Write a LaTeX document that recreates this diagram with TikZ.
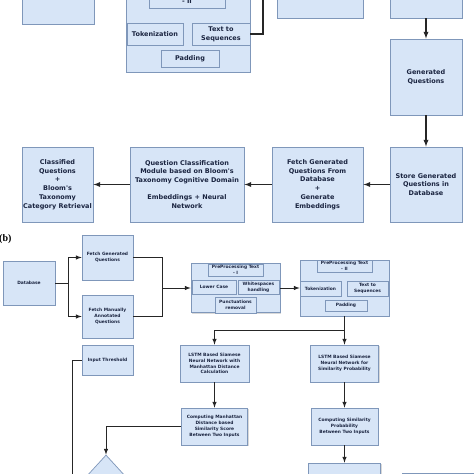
\documentclass[tikz,border=0pt]{standalone}
\usepackage{fontspec}
\newfontfamily\boxfont{DejaVu Sans}
\newfontfamily\labfont{Liberation Serif}
\usetikzlibrary{arrows,shapes.geometric,shadows}
\definecolor{boxfill}{HTML}{D7E5F7}
\definecolor{boxline}{HTML}{7F97BA}
\definecolor{boxtext}{HTML}{1A2440}
\definecolor{wire}{HTML}{262626}

\begin{document}
\begin{tikzpicture}[x=1pt,y=-1pt,>=latex,
blk/.style={draw=boxline,fill=boxfill,text=boxtext,align=center,drop shadow={shadow xshift=1pt,shadow yshift=-1pt,opacity=0.3}},
big/.style={blk,line width=0.9pt,inner sep=1pt,font=\boxfont\bfseries\fontsize{6.5}{8.7}\selectfont},
small/.style={blk,line width=0.7pt,inner sep=0.5pt,font=\boxfont\bfseries\fontsize{4.4}{5.9}\selectfont},
wa/.style={draw=wire,line width=1.3pt},
wb/.style={draw=wire,line width=1pt}]
\useasboundingbox (0,0) rectangle (474,474);
\clip (0,0) rectangle (474,474);

\node[big,minimum width=72pt,minimum height=64pt] (topl) at (58,-8) {};
\node[big,minimum width=124pt,minimum height=92pt] (ppa) at (188,26) {};
\node[big,minimum width=76pt,minimum height=22pt] (ppat) at (187,-3) {PreProcessing Text\\- II};
\node[big,minimum width=56pt,minimum height=22pt] (toka) at (155,34) {Tokenization};
\node[big,minimum width=58pt,minimum height=22pt] (tsa) at (221,34) {Text to\\Sequences};
\node[big,minimum width=58pt,minimum height=17pt] (pada) at (190,58.5) {Padding};
\node[big,minimum width=86pt,minimum height=58pt] (midb) at (320,-11) {};
\node[big,minimum width=72pt,minimum height=58pt] (topr) at (426,-11) {};
\node[big,minimum width=72pt,minimum height=76pt] (genq) at (426,77) {Generated\\Questions};
\node[big,minimum width=72pt,minimum height=75pt] (store) at (426,184.5) {Store Generated\\Questions in\\Database};
\node[big,minimum width=91pt,minimum height=75pt] (fetch) at (317.5,184.5) {Fetch Generated\\Questions From\\Database\\+\\Generate\\Embeddings};
\node[big,minimum width=114pt,minimum height=75pt] (qcm) at (187,184.5) {Question Classification\\Module based on Bloom's\\Taxonomy Cognitive Domain\\[8.7pt]Embeddings + Neural\\Network};
\node[big,minimum width=71pt,minimum height=75pt] (clsq) at (57.5,184.5) {Classified\\Questions\\+\\Bloom's\\Taxonomy\\Category Retrieval};

\coordinate (ppup) at (263,-30);
\draw[wa] (ppa.east |- tsa.center) -| (ppup);
\draw[wa,->] (topr) -- (genq);
\draw[wa,->] (genq) -- (store);
\draw[wa,->] (store) -- (fetch);
\draw[wa,->] (fetch) -- (qcm);
\draw[wa,->] (qcm) -- (clsq);

\node[font=\labfont\bfseries\fontsize{10}{11}\selectfont,anchor=west,inner sep=0pt] (lblb) at (-1,239) {(b)};

\node[small,minimum width=52pt,minimum height=44pt] (db) at (29,283) {Database};
\node[small,minimum width=51pt,minimum height=45pt] (fgq) at (107.5,257.5) {Fetch Generated\\Questions};
\node[small,minimum width=51pt,minimum height=43pt] (fmq) at (107.5,316.5) {Fetch Manually\\Annotated\\Questions};

\node[small,minimum width=89pt,minimum height=49pt] (ppb1) at (235.5,288) {};
\node[small,minimum width=55pt,minimum height=12pt] (ttl1) at (235.5,270) {PreProcessing Text\\- I};
\node[small,minimum width=44pt,minimum height=14pt] (lowc) at (214,287) {Lower Case};
\node[small,minimum width=41pt,minimum height=14pt] (wsh) at (258.5,287) {Whitespaces\\handling};
\node[small,minimum width=41pt,minimum height=16pt] (punc) at (235.5,305) {Punctuations\\removal};

\node[small,minimum width=89pt,minimum height=56pt] (ppb2) at (344.5,288) {};
\node[small,minimum width=55pt,minimum height=12pt] (ttl2) at (344.5,266) {PreProcessing Text\\- II};
\node[small,minimum width=41pt,minimum height=15pt] (tokb) at (320.5,288.5) {Tokenization};
\node[small,minimum width=41pt,minimum height=15pt] (tsb) at (367.5,288.5) {Text to\\Sequences};
\node[small,minimum width=42pt,minimum height=11pt] (padb) at (346,305.5) {Padding};

\node[small,minimum width=69pt,minimum height=37pt] (lstmm) at (214.5,363.5) {LSTM Based Siamese\\Neural Network with\\Manhattan Distance\\Calculation};
\node[small,minimum width=66pt,minimum height=37pt] (cmp) at (214.5,426.5) {Computing Manhattan\\Distance based\\Similarity Score\\Between Two Inputs};
\node[small,minimum width=68pt,minimum height=37pt] (lstmp) at (344.5,363.5) {LSTM Based Siamese\\Neural Network for\\Similarity Probability};
\node[small,minimum width=67pt,minimum height=37pt] (csp) at (344.5,426.5) {Computing Similarity\\Probability\\Between Two Inputs};
\node[small,minimum width=72pt,minimum height=36pt] (nxt) at (344.5,481) {};
\node[small,minimum width=90pt,minimum height=36pt] (rgt) at (447,491) {};
\node[small,minimum width=51pt,minimum height=30pt] (thr) at (107.5,360) {Input Threshold};
\node[small,diamond,minimum width=66pt,minimum height=72pt,inner sep=0pt] (dec) at (106,491) {};

\coordinate (splt) at (68,283);
\coordinate (jn) at (162,288);
\coordinate (sp2) at (344.5,330);
\coordinate (thd) at (72,500);
\draw[wb] (db) -- (splt);
\draw[wb,->] (splt) |- (fgq);
\draw[wb,->] (splt) |- (fmq);
\draw[wb] (fgq) -| (jn);
\draw[wb] (fmq) -| (jn);
\draw[wb,->] (jn) -- (ppb1);
\draw[wb,->] (ppb1) -- (ppb2);
\draw[wb,->] (ppb2) -- (lstmp);
\draw[wb,->] (sp2) -| (lstmm);
\draw[wb,->] (lstmm) -- (cmp);
\draw[wb,->] (lstmp) -- (csp);
\draw[wb,->] (csp) -- (nxt);
\draw[wb,->] (cmp) -| (dec);
\draw[wb] (thr) -| (thd);
\end{tikzpicture}
\end{document}
